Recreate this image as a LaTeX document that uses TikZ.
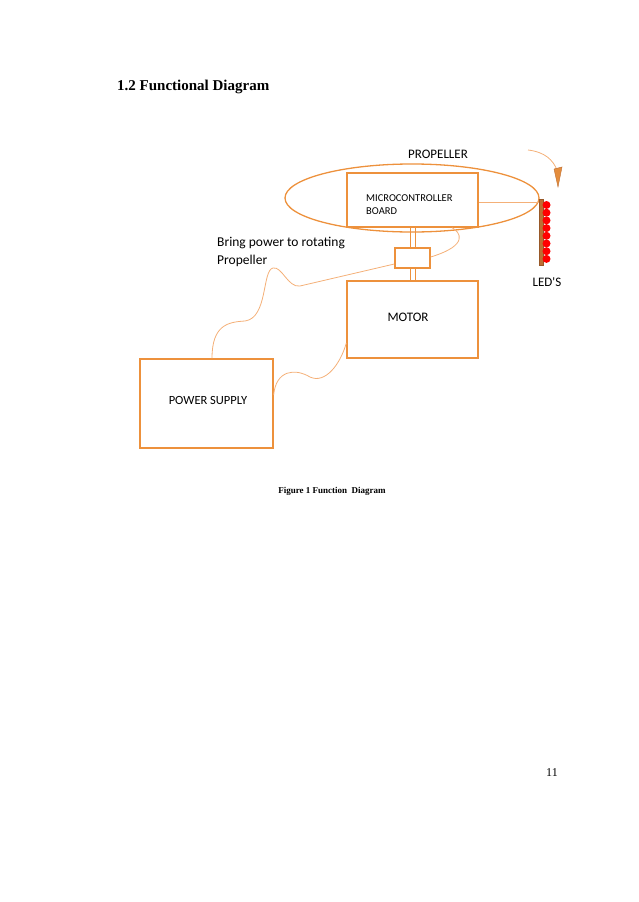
\documentclass[tikz,border=0pt]{standalone}
\usepackage{fontspec}
\setmainfont{Liberation Serif}
\newfontfamily\calib{Carlito}
\usetikzlibrary{positioning,shapes,calc}
\definecolor{orng}{RGB}{237,145,60}
\definecolor{wire}{RGB}{244,176,120}
\definecolor{brwn}{RGB}{190,110,50}
\begin{document}
\begin{tikzpicture}[x=1pt, y=-1pt, every node/.style={inner sep=0pt}]
            \useasboundingbox (0,0) rectangle (638,902);
            \tikzset{box/.style={draw=orng, line width=1.3pt}, lbl/.style={font=\calib, anchor=west}}

            \node[font=\bfseries\fontsize{15}{17}\selectfont, anchor=west] (title) at (117,87) {1.2 Functional Diagram};

            \draw[box] (412,198) ellipse (127 and 34);
            \node[font=\calib\fontsize{13}{15}\selectfont] (prop) at (438,154) {PROPELLER};

            \node[box, minimum width=131, minimum height=54] (mcu) at (412.5,200) {};
            \node[lbl, font=\calib\fontsize{10.5}{13}\selectfont, align=left] (mcutxt) at (366,205) {MICROCONTROLLER\\BOARD};

            \node[box, minimum width=35, minimum height=20] (slip) at (412.5,258) {};
            \node[box, minimum width=131, minimum height=77] (motor) at (412.5,319.5) {};
            \node[font=\calib\fontsize{13}{15}\selectfont] (mtxt) at (408,317) {MOTOR};
            \node[box, minimum width=133, minimum height=89] (psu) at (206.5,403.5) {};
            \node[font=\calib\fontsize{12.5}{15}\selectfont] (ptxt) at (208,400) {POWER SUPPLY};

            % shaft
            \draw[orng, line width=0.9pt] ($(mcu.south)+(-2.5,0)$) -- ($(slip.north)+(-2.5,0)$);
            \draw[orng, line width=0.9pt] ($(mcu.south)+(2.5,0)$) -- ($(slip.north)+(2.5,0)$);
            \draw[orng, line width=0.9pt] ($(slip.south)+(-2.5,0)$) -- ($(motor.north)+(-2.5,0)$);
            \draw[orng, line width=0.9pt] ($(slip.south)+(2.5,0)$) -- ($(motor.north)+(2.5,0)$);

            % LEDs
            \node[fill=brwn, draw=brwn!80!black, minimum width=4, minimum height=66] (bar) at (541,232) {};
            \foreach \i in {0,...,7}
                \fill[red] (546.5,205+7.7*\i) circle (4);
            \node[font=\calib\fontsize{13}{15}\selectfont] (led) at (547,282) {LED'S};
            \draw[wire, line width=0.8pt] (mcu.east |- bar.north) ++(0,4) coordinate (m1) -- (m1 -| bar.west);

            % rotation arrow
            \coordinate (a0) at (528,150);
            \coordinate (a1) at (557,170);
            \draw[wire, line width=0.8pt] (a0) .. controls (545,152) and (553,160) .. (a1);
            \draw[brwn, fill=orng!80!brown] (554,169) -- (562,167) -- (558,187) -- cycle;

            \node[lbl, font=\calib\fontsize{13.5}{18}\selectfont, align=left] (bring) at (217,252) {Bring power to rotating\\Propeller};

            % wires
            \draw[wire, line width=0.8pt] (psu.north -| 212,0) .. controls (212,325) and (228,322) .. (245,321)
                .. controls (268,318) and (262,270) .. (273,268)
                .. controls (282,266) and (288,288) .. (300,286)
                -- (slip.south west |- 0,264);
            \draw[wire, line width=0.8pt] (slip.east |- 0,257) .. controls (470,245) and (460,232) .. (mcu.south -| 452,0);
            \draw[wire, line width=0.8pt] (psu.east |- 0,395) .. controls (276,370) and (295,368) .. (310,377)
                .. controls (325,384) and (340,365) .. (motor.west |- 0,343);

            \node[font=\bfseries\fontsize{9}{11}\selectfont] (cap) at (332,491) {Figure 1 Function\ \ Diagram};
            \node[font=\fontsize{12}{14}\selectfont] (pg) at (552,773) {11};
        \end{tikzpicture}
\end{document}
